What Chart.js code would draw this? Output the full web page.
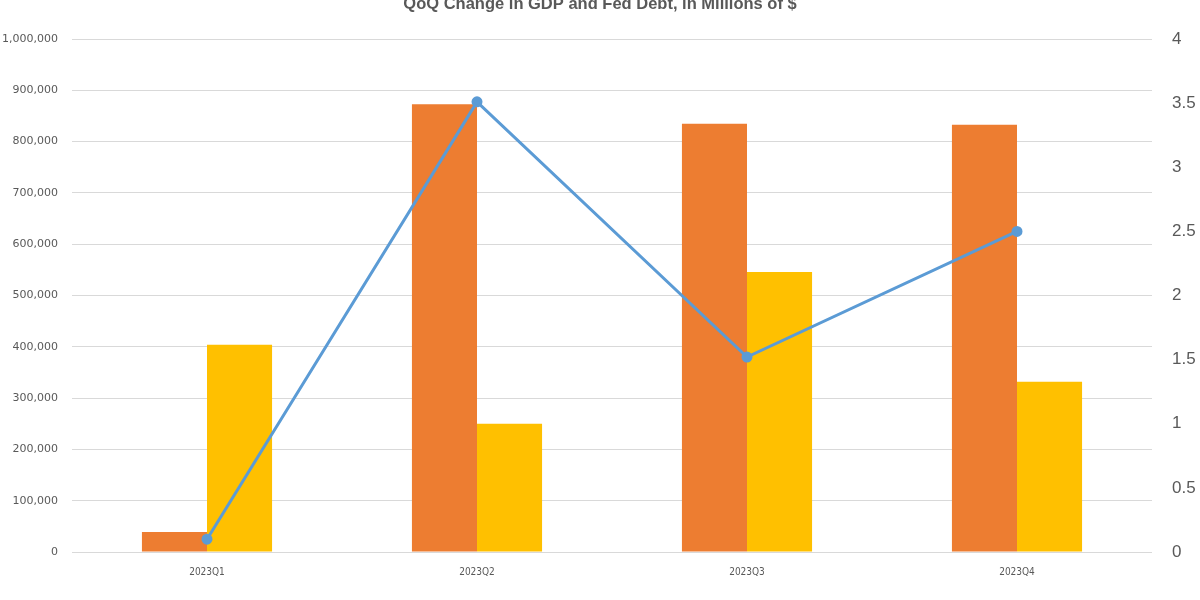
<!DOCTYPE html>
<html>
<head>
<meta charset="utf-8">
<script src="https://cdn.jsdelivr.net/npm/chart.js@4"></script>
<style>
  html, body { margin: 0; padding: 0; background: #fff; overflow: hidden; }
  #wrap { position: absolute; left: 0; top: -5px; width: 1200px; height: 605px; }
</style>
</head>
<body>
<div id="wrap"><canvas id="gdpDebtChart"></canvas></div>
<script>
// Datos
const quarters = ['2023Q1', '2023Q2', '2023Q3', '2023Q4'];
const gdpChange = [39000, 873000, 835000, 833000];
const debtChange = [404000, 250000, 546000, 332000];
const ratioLine = [0.1, 3.51, 1.52, 2.5];

const leftTicks = [0, 1000000, 100000];
const rightTicks = [0, 4, 0.5];

const gray = '#595959';
const gridGray = '#d9d9d9';

document.addEventListener('DOMContentLoaded', function() {
    const ctx = document.getElementById('gdpDebtChart').getContext('2d');

    new Chart(ctx, {
        type: 'bar',
        data: {
            labels: quarters,
            datasets: [
                {
                    type: 'line',
                    label: 'Ratio',
                    data: ratioLine,
                    yAxisID: 'y1',
                    borderColor: '#5b9bd5',
                    backgroundColor: '#5b9bd5',
                    borderWidth: 3,
                    pointRadius: 4,
                    pointHoverRadius: 4,
                    tension: 0,
                    order: 0
                },
                {
                    label: 'GDP change',
                    data: gdpChange,
                    yAxisID: 'y',
                    backgroundColor: '#ed7d31',
                    barPercentage: 1,
                    categoryPercentage: 0.482,
                    order: 1
                },
                {
                    label: 'Fed debt change',
                    data: debtChange,
                    yAxisID: 'y',
                    backgroundColor: '#ffc000',
                    barPercentage: 1,
                    categoryPercentage: 0.482,
                    order: 1
                }
            ]
        },
        options: {
            responsive: true,
            maintainAspectRatio: false,
            animation: false,
            layout: { padding: 0 },
            plugins: {
                legend: { display: false },
                tooltip: { enabled: false },
                title: {
                    display: true,
                    text: 'QoQ Change in GDP and Fed Debt, in Millions of $',
                    color: gray,
                    font: { family: 'Liberation Sans', size: 16.5, weight: 'bold', lineHeight: 1.2 },
                    padding: { top: 0, bottom: 24.2 }
                }
            },
            scales: {
                x: {
                    grid: { display: false, drawTicks: false },
                    border: { display: false },
                    ticks: {
                        color: gray,
                        padding: 14,
                        font: { family: "'DejaVu Sans Condensed', 'Liberation Sans', sans-serif", size: 10 }
                    },
                    afterFit: function(scale) { scale.height = 48; }
                },
                y: {
                    position: 'left',
                    min: leftTicks[0],
                    max: leftTicks[1],
                    grid: { color: gridGray, lineWidth: 1, drawTicks: false },
                    border: { display: false },
                    ticks: {
                        stepSize: leftTicks[2],
                        color: gray,
                        padding: 14,
                        font: { family: 'DejaVu Sans', size: 11 },
                        callback: function(value) {
                            return value.toLocaleString('en-US');
                        }
                    },
                    afterFit: function(scale) { scale.width = 72; }
                },
                y1: {
                    position: 'right',
                    min: rightTicks[0],
                    max: rightTicks[1],
                    grid: { display: false, drawTicks: false },
                    border: { display: false },
                    ticks: {
                        stepSize: rightTicks[2],
                        color: gray,
                        padding: 20,
                        font: { family: 'Liberation Sans', size: 17 },
                        callback: function(value) {
                            return String(Number(value.toFixed(1)));
                        }
                    },
                    afterFit: function(scale) { scale.width = 48; }
                }
            }
        }
    });
});
</script>
</body>
</html>
